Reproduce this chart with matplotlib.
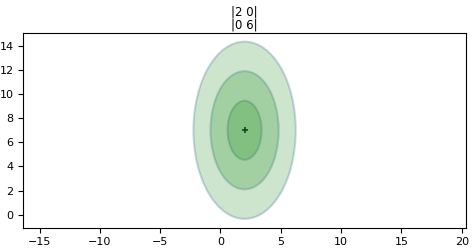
import numpy as np
import matplotlib
matplotlib.use("Agg")
import matplotlib.pyplot as plt
from matplotlib.patches import Ellipse
from matplotlib.ticker import MultipleLocator

mean = [2, 7]
cov = [[2, 0], [0, 6]]
stds = [1, 2, 3]
title = "|2 0|\n|0 6|"

fig = plt.figure(figsize=(4.74, 2.5), dpi=100)
ax = fig.add_axes([0.049, 0.089, 0.934, 0.78])

vals, vecs = np.linalg.eigh(np.array(cov, dtype=float))
order = vals.argsort()[::-1]
vals, vecs = vals[order], vecs[:, order]
angle = np.degrees(np.arctan2(vecs[1, 0], vecs[0, 0]))
w, h = 2 * np.sqrt(vals)

for sd in stds:
    e = Ellipse(xy=mean, width=sd * w, height=sd * h, angle=angle,
                facecolor='g', edgecolor='#004080', alpha=0.2, lw=1.5)
    ax.add_patch(e)

ax.scatter([mean[0]], [mean[1]], marker='+', color='#0d4a22', s=25, lw=1.2, zorder=5)
ax.autoscale_view()
ax.set_aspect('equal', adjustable='datalim')
ax.xaxis.set_major_locator(MultipleLocator(5))
ax.yaxis.set_major_locator(MultipleLocator(2))
ax.set_title(title, fontsize=8.5, pad=3, linespacing=1.0)
ax.tick_params(labelsize=8)

fig.savefig("out.png", dpi=100)
